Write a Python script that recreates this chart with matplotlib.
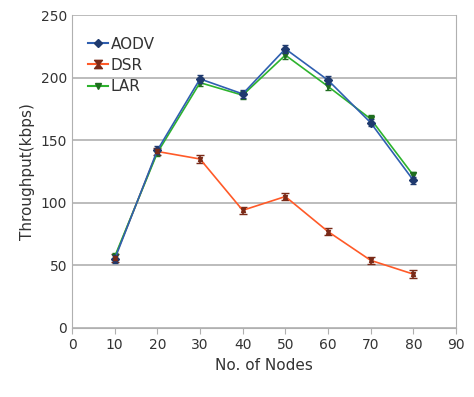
import matplotlib.pyplot as plt
from matplotlib.lines import Line2D
import numpy as np

nodes = [10, 20, 30, 40, 50, 60, 70, 80]
aodv = [55, 142, 199, 187, 223, 198, 164, 118]
dsr = [56, 141, 135, 94, 105, 77, 54, 43]
lar = [57, 140, 196, 186, 218, 193, 167, 122]
err = [3, 3, 3, 3, 3, 3, 3, 3]

fig = plt.figure(figsize=(4.74, 3.97), dpi=100)
ax = fig.add_axes([0.152, 0.174, 0.810, 0.788])

ax.errorbar(nodes, aodv, yerr=err, color='#2f5fb0', marker='D', markersize=4,
            markerfacecolor='#1f3a6e', markeredgecolor='#1f3a6e', ecolor='#1f3a6e',
            capsize=2.5, lw=1.2, zorder=4)
ax.errorbar(nodes, dsr, yerr=err, color='#ff5a28', marker='', ecolor='#7a2a18',
            capsize=3, lw=1.2, zorder=3)
ax.plot(nodes, dsr, ls='none', marker='v', markersize=3, color='#7a2a18', zorder=5)
ax.plot(nodes, dsr, ls='none', marker='^', markersize=3, color='#7a2a18', zorder=5)
ax.errorbar(nodes, lar, yerr=err, color='#2db32d', marker='v', markersize=4,
            markerfacecolor='#1f6e1f', markeredgecolor='#1f6e1f', ecolor='#1f6e1f',
            capsize=2.5, lw=1.2, zorder=3)

ax.set_xlim(0, 90)
ax.set_ylim(0, 250)
ax.set_xticks(np.arange(0, 91, 10))
ax.set_yticks(np.arange(0, 251, 50))
ax.yaxis.grid(True, color='#b0b0b0', lw=1.2)
ax.set_axisbelow(True)
for s in ['top', 'right', 'left', 'bottom']:
    ax.spines[s].set_color('#b0b0b0')
ax.spines['top'].set_visible(False)
ax.tick_params(axis='both', colors='#b0b0b0', labelcolor='#333333', labelsize=10)
ax.tick_params(axis='y', length=0)
ax.tick_params(axis='x', length=4, direction='out')

ax.set_xlabel('No. of Nodes', fontsize=11, color='#333333')
ax.set_ylabel('Throughput(kbps)', fontsize=11, color='#333333')

handles = [
    Line2D([], [], color='#2f5fb0', marker='D', markersize=4,
           markerfacecolor='#1f3a6e', markeredgecolor='#1f3a6e', lw=1.5),
    Line2D([], [], color='#ff5a28', marker='$\u29D7$', markersize=6,
           markerfacecolor='#7a2a18', markeredgecolor='#7a2a18', lw=1.5),
    Line2D([], [], color='#2db32d', marker='v', markersize=5,
           markerfacecolor='#1f6e1f', markeredgecolor='#1f6e1f', lw=1.5),
]
ax.legend(handles, ['AODV', 'DSR', 'LAR'], loc='upper left', frameon=False,
          fontsize=11, handlelength=1.3, handletextpad=0.2, labelspacing=0.4,
          borderaxespad=0.5, bbox_to_anchor=(0.005, 0.975), labelcolor='#333333')

fig.savefig('out.png', dpi=100)
